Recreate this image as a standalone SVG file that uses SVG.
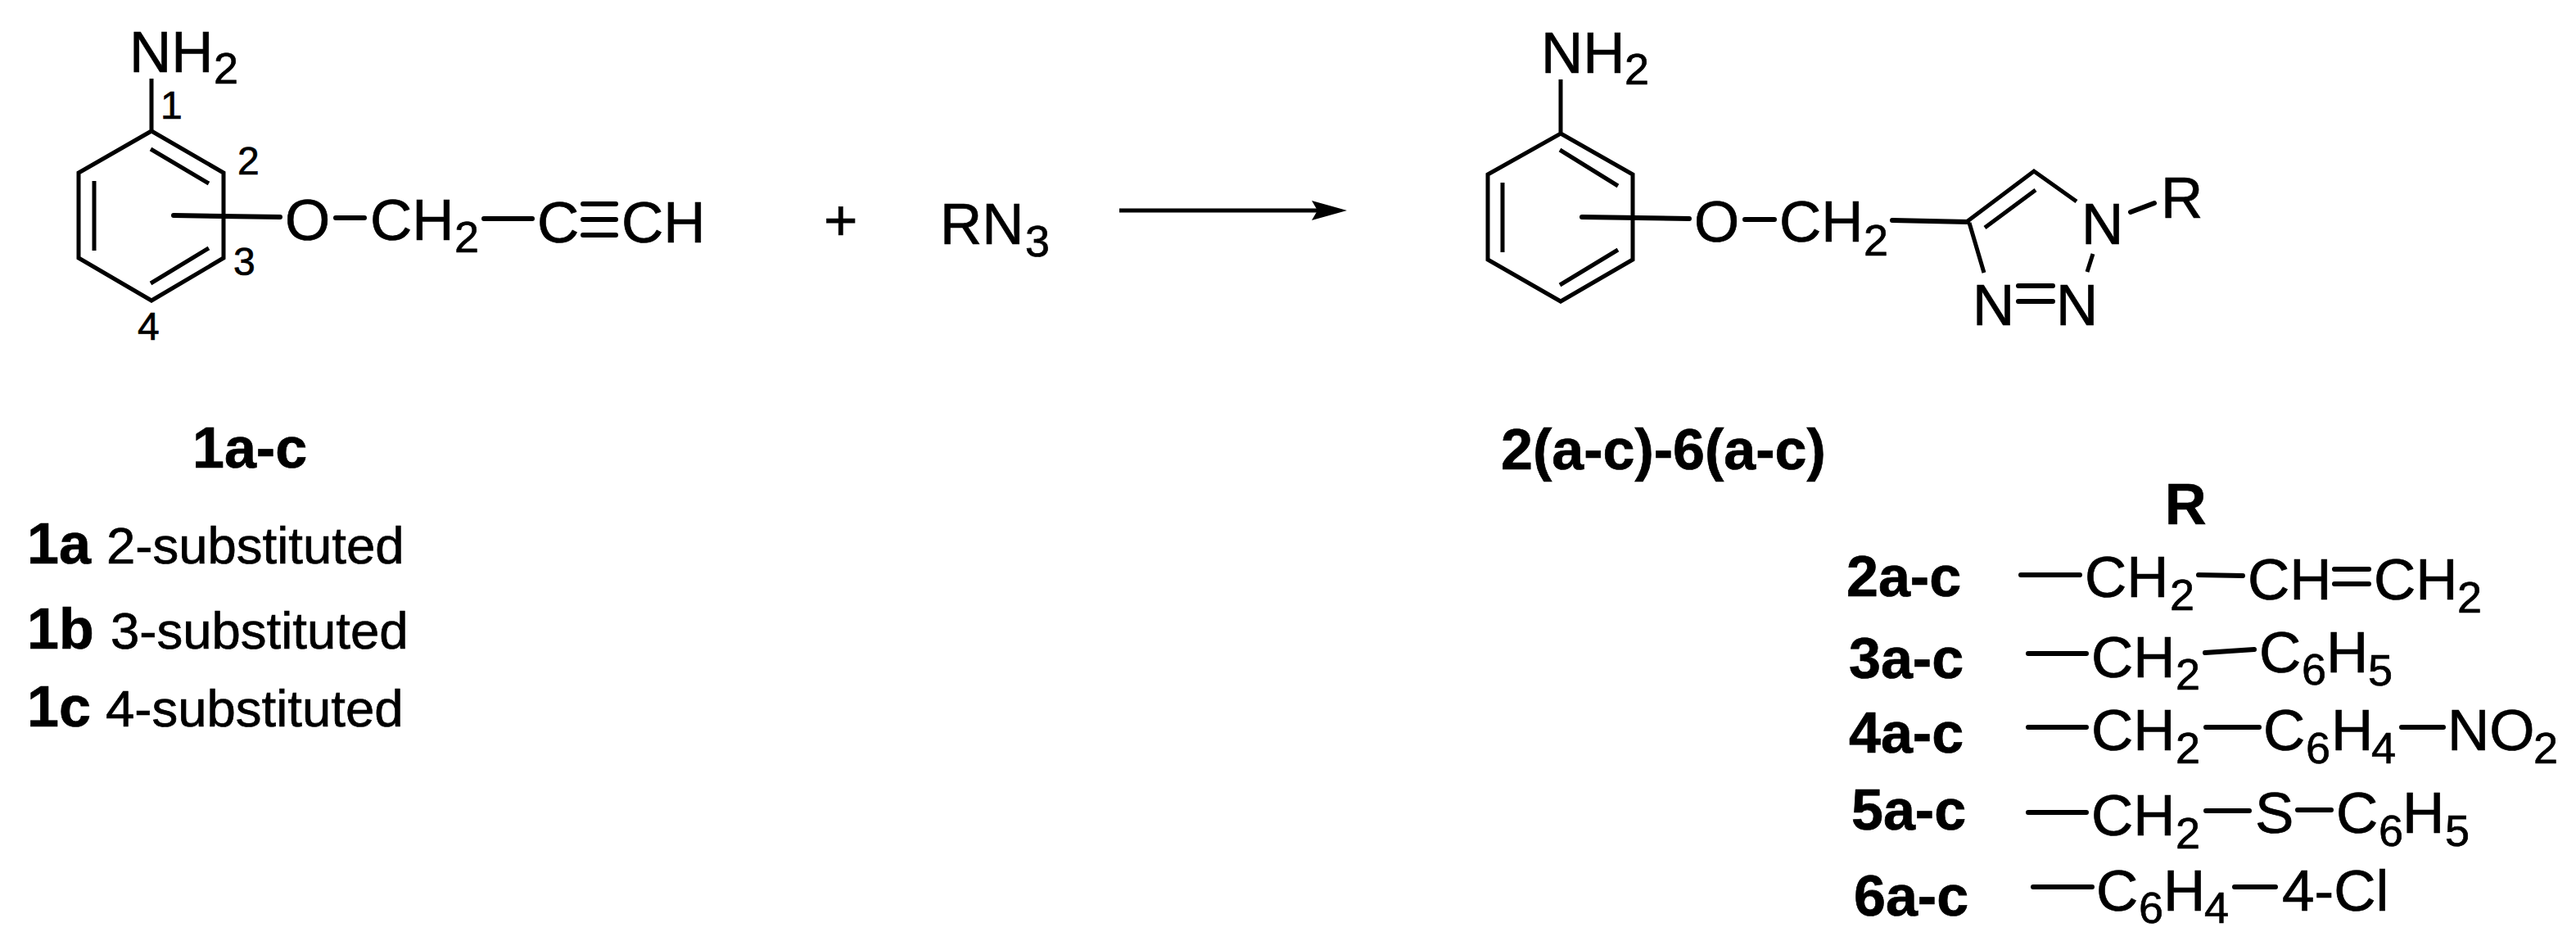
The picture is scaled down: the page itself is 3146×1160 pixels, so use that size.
<svg xmlns="http://www.w3.org/2000/svg" width="3146" height="1160" viewBox="0 0 3146 1160">
<style>
text{font-family:"Liberation Sans",Arial,sans-serif;fill:#000;font-size:71px;stroke:#000;stroke-width:.7px}
.b{font-weight:bold;font-size:70px}
.r{font-size:63.5px}
.n{font-size:48px}
.s{font-size:54px}
.bond{stroke:#000;stroke-width:5;fill:none}
.thick{stroke:#000;stroke-width:6;fill:none;stroke-linecap:round}
</style>
<defs>
<marker id="ah" markerUnits="userSpaceOnUse" markerWidth="44" markerHeight="24" refX="7" refY="12" orient="auto"><path d="M0 0L43 12L0 24L7 12Z" fill="#000"/></marker>
</defs>
<rect width="3146" height="1160" fill="#fff"/>
<g id="connectors">
<path d="M1367 257H1609" stroke="#000" stroke-width="5" fill="none" marker-end="url(#ah)"/>
</g>
<g id="reactant">
<path class="bond" d="M185 160L273 211V315L185 367L96 315V211Z M185 96V160 M184 182L255 224 M115 221V306 M255 303L184 346"/>
<path class="thick" d="M212 263L342 265 M410 266H445 M591 267H650 M712 249H752 M712 268H752 M712 287H752"/>
<text x="158" y="88">NH</text><text class="s" x="261" y="102">2</text>
<text class="n" x="196" y="145">1</text><text class="n" x="290" y="213">2</text><text class="n" x="285" y="336">3</text><text class="n" x="168" y="415">4</text>
<text x="348" y="293">O</text>
<text x="452" y="293">CH</text><text class="s" x="555" y="308">2</text>
<text x="656" y="296">C</text><text x="759" y="296">CH</text>
<text class="b" x="235" y="571">1a-c</text>
<text class="b" x="33" y="688">1a</text><text class="r" x="130" y="688">2-substituted</text>
<text class="b" x="33" y="792">1b</text><text class="r" x="135" y="792">3-substituted</text>
<text class="b" x="33" y="887">1c</text><text class="r" x="129" y="887">4-substituted</text>
</g>
<g id="reagent">
<text x="1006" y="293">+</text>
<text x="1148" y="298">RN</text><text class="s" x="1252" y="313">3</text>
</g>
<g id="product">
<path class="bond" d="M1906 163L1994 213V317L1906 368L1817 317V213Z M1906 97V163 M1905 183L1976 227 M1835 223V308 M1976 305L1905 348"/>
<path class="thick" d="M1932 265L2063 267 M2131 268H2167 M2311 269L2403 271 M2465 349H2507 M2465 368H2507 M2602 259L2631 248"/>
<path class="bond" d="M2405 272L2423 333 M2403 270L2484 209L2536 246 M2424 278L2486 232 M2556 310L2549 332"/>
<text x="1882" y="89">NH</text><text class="s" x="1984" y="103">2</text>
<text x="2069" y="295">O</text>
<text x="2173" y="295">CH</text><text class="s" x="2276" y="312">2</text>
<text x="2542" y="298">N</text><text x="2409" y="397">N</text><text x="2511" y="397">N</text>
<text x="2639" y="266">R</text>
<text class="b" x="1833" y="573">2(a-c)-6(a-c)</text>
</g>
<g id="r-table">
<text class="b" x="2644" y="640">R</text>
<text class="b" x="2255" y="728">2a-c</text>
<text class="b" x="2258" y="828">3a-c</text>
<text class="b" x="2258" y="919">4a-c</text>
<text class="b" x="2261" y="1013">5a-c</text>
<text class="b" x="2264" y="1118">6a-c</text>
<path class="thick" d="M2468 702H2540 M2685 702L2739 703 M2851 695H2893 M2851 713H2893 M2477 798H2548 M2693 797L2753 793 M2477 888H2548 M2694 888H2759 M2933 888H2984 M2477 992H2548 M2694 990H2747 M2806 989H2847 M2483 1083H2555 M2729 1083H2779"/>
<text x="2546" y="729">CH</text><text class="s" x="2650" y="745">2</text>
<text x="2745" y="732">CH</text><text x="2899" y="732">CH</text><text class="s" x="3001" y="748">2</text>
<text x="2554" y="827">CH</text><text class="s" x="2657" y="842">2</text>
<text x="2759" y="821">C</text><text class="s" x="2811" y="836">6</text><text x="2841" y="821">H</text><text class="s" x="2892" y="837">5</text>
<text x="2554" y="916">CH</text><text class="s" x="2657" y="932">2</text>
<text x="2764" y="916">C</text><text class="s" x="2816" y="932">6</text><text x="2847" y="916">H</text><text class="s" x="2896" y="932">4</text>
<text x="2989" y="916">NO</text><text class="s" x="3094" y="932">2</text>
<text x="2554" y="1020">CH</text><text class="s" x="2657" y="1036">2</text>
<text x="2754" y="1017">S</text>
<text x="2853" y="1017">C</text><text class="s" x="2905" y="1033">6</text><text x="2934" y="1017">H</text><text class="s" x="2986" y="1033">5</text>
<text x="2560" y="1112">C</text><text class="s" x="2612" y="1127">6</text><text x="2642" y="1112">H</text><text class="s" x="2692" y="1127">4</text>
<text x="2787" y="1112">4-Cl</text>
</g>
</svg>
